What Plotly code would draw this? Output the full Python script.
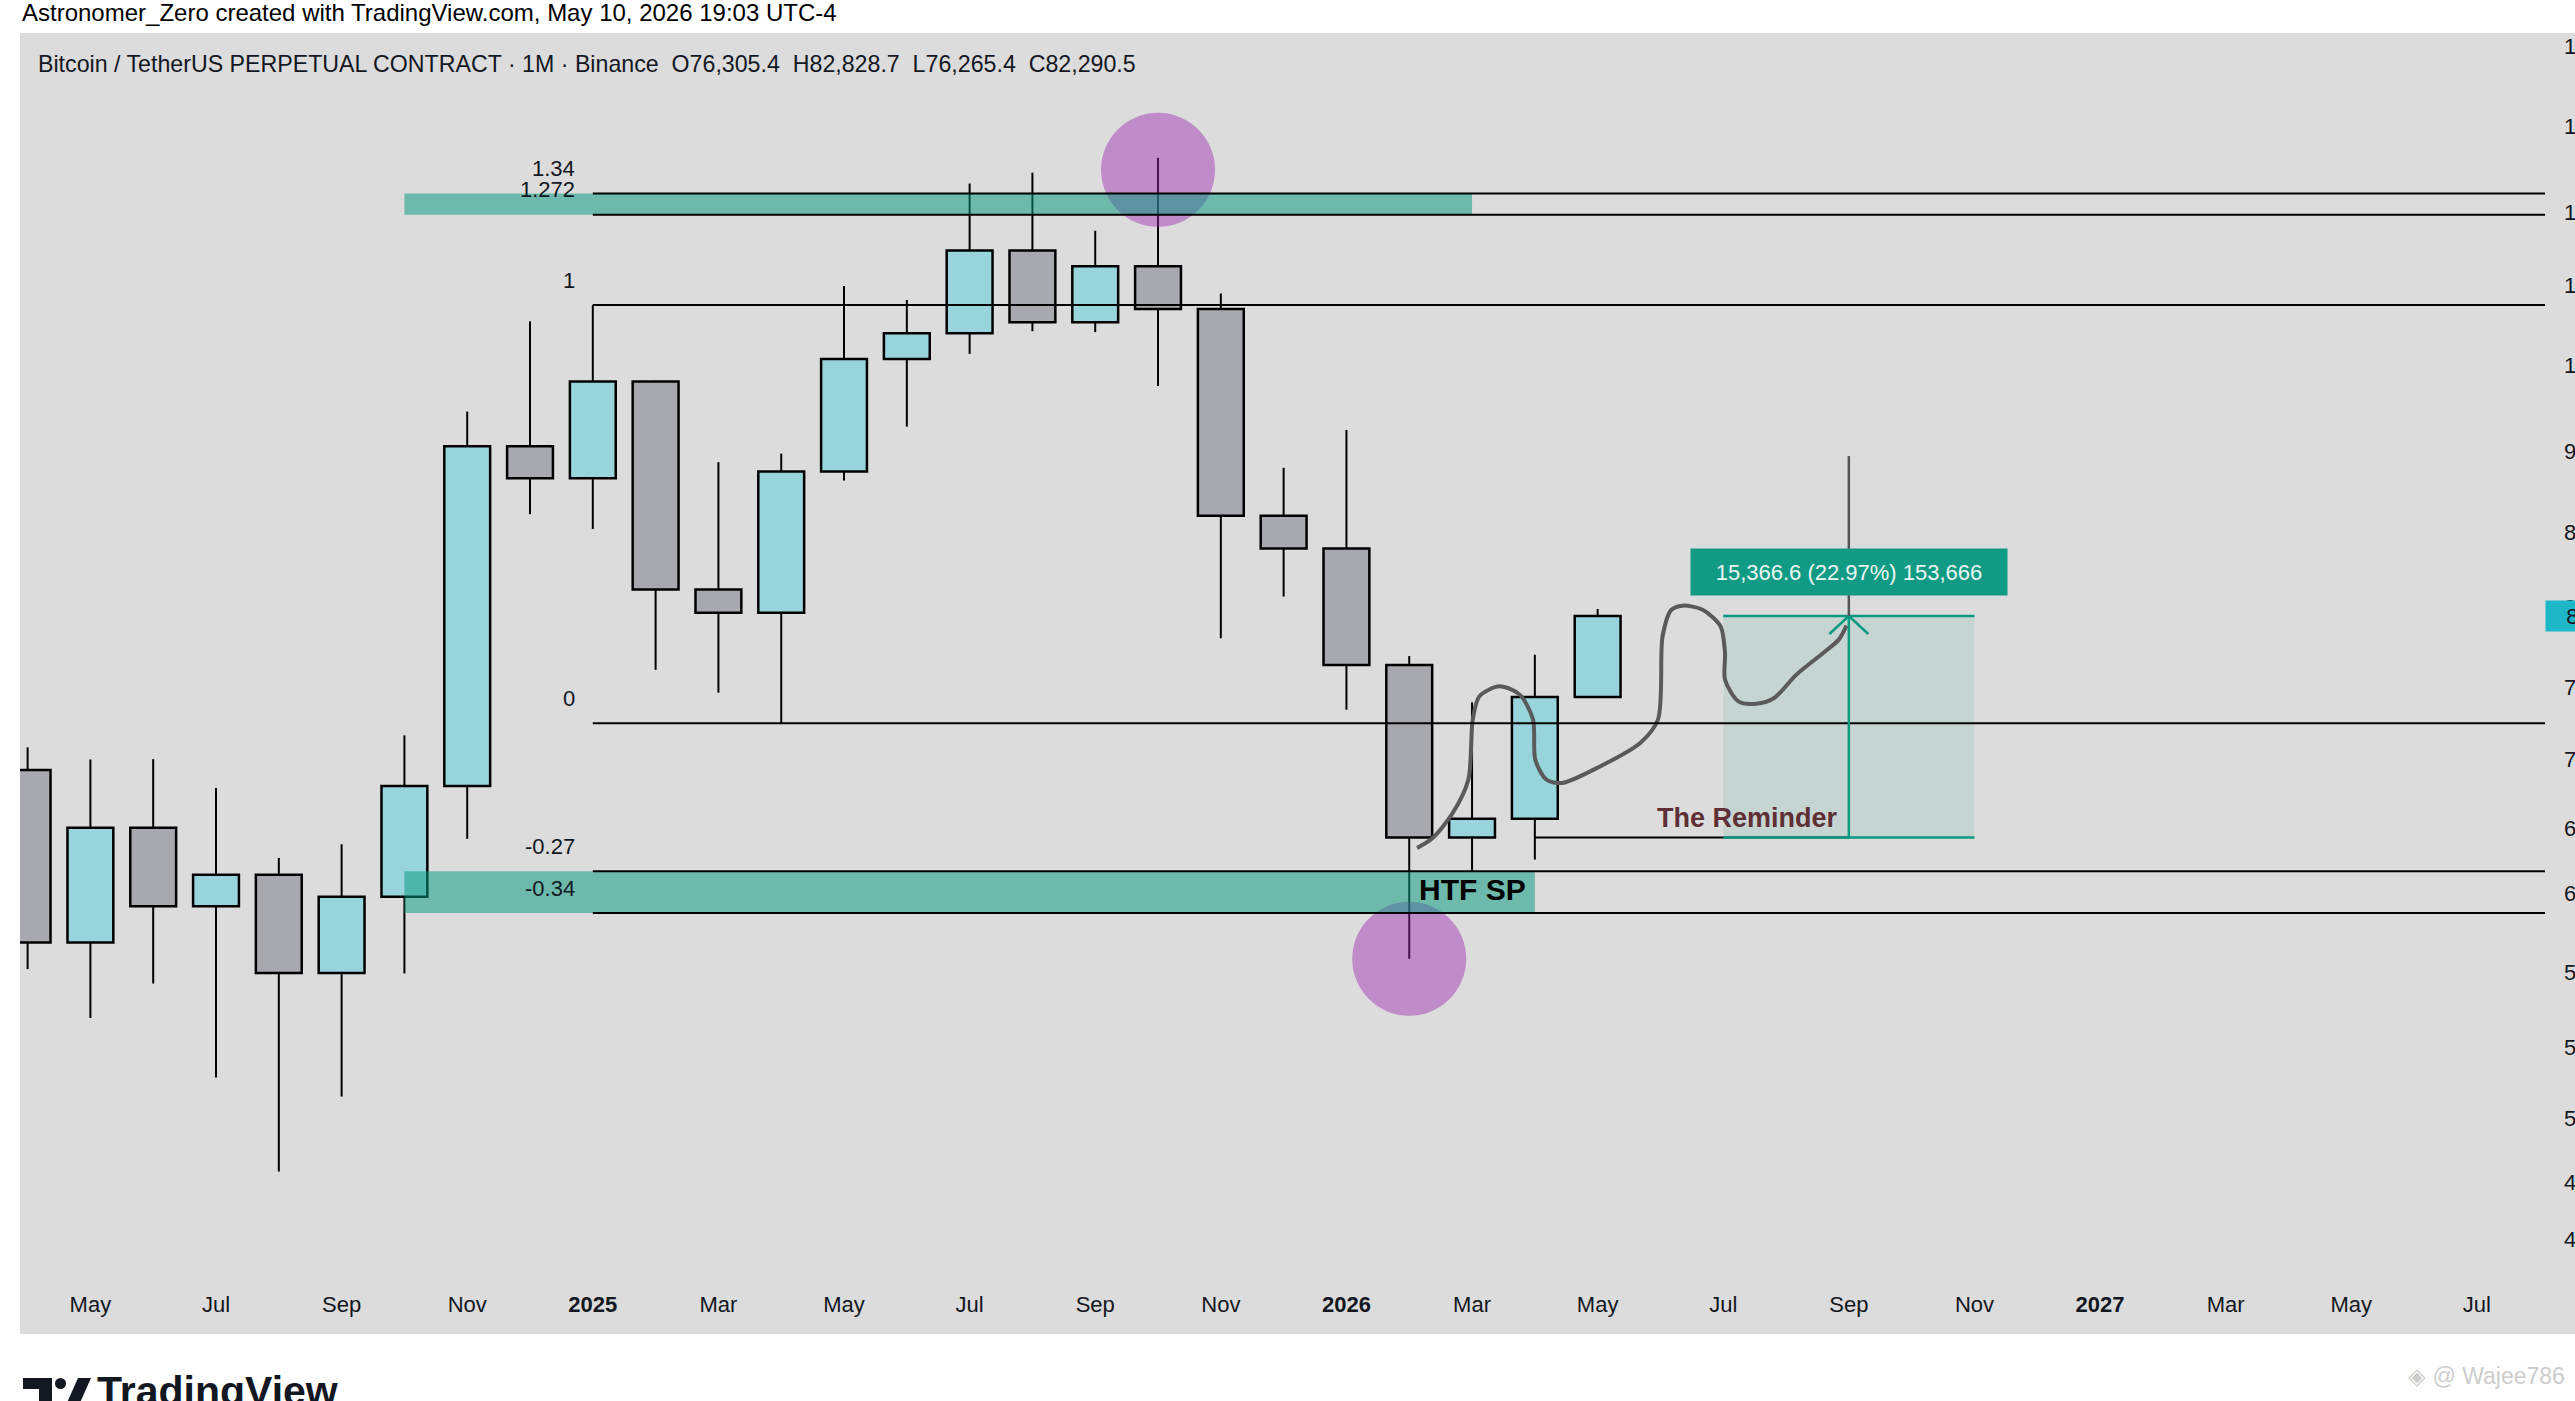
import math
import plotly.graph_objects as go

# ---------------- data ----------------
months = ["2024-04", "2024-05", "2024-06", "2024-07", "2024-08", "2024-09", "2024-10",
          "2024-11", "2024-12", "2025-01", "2025-02", "2025-03", "2025-04", "2025-05",
          "2025-06", "2025-07", "2025-08", "2025-09", "2025-10", "2025-11", "2025-12",
          "2026-01", "2026-02", "2026-03", "2026-04", "2026-05"]
opens = [71280, 60670, 67540, 62770, 64630, 58970, 63330, 70220, 96410, 93580, 102430, 84350,
         82550, 94170, 104590, 107140, 115760, 108250, 114050, 109610, 90360, 87650, 78620,
         66930, 68110, 76305.4]
highs = [72800, 71980, 72000, 70080, 65660, 66500, 73620, 99590, 108350, 110000, 102500, 95000,
         95760, 111980, 110530, 123220, 124470, 117900, 126200, 111200, 94500, 97900, 79270,
         75920, 79370, 82828.7]
lows = [59190, 56550, 58400, 53490, 49000, 52550, 58950, 66840, 90500, 89260, 78260, 76610,
        74450, 93380, 98200, 105100, 107350, 107260, 102000, 80600, 83800, 75400, 59760,
        64850, 65560, 76265.4]
closes = [60670, 67540, 62770, 64630, 58970, 63330, 70220, 96410, 93580, 102430, 84350, 82550,
          94170, 104590, 107140, 115760, 108250, 114050, 109610, 90360, 87650, 78620, 66930,
          68110, 76305.4, 82290.5]

axis_months = ["2024-05", "2024-07", "2024-09", "2024-11", "2025-01", "2025-03", "2025-05",
               "2025-07", "2025-09", "2025-11", "2026-01", "2026-03", "2026-05", "2026-07",
               "2026-09", "2026-11", "2027-01", "2027-03", "2027-05", "2027-07"]
axis_labels = ["May", "Jul", "Sep", "Nov", "<b>2025</b>", "Mar", "May", "Jul", "Sep", "Nov",
               "<b>2026</b>", "Mar", "May", "Jul", "Sep", "Nov", "<b>2027</b>", "Mar", "May", "Jul"]

price_ticks = [140000, 130000, 120000, 112000, 104000, 96000, 89000, 83000, 77000, 72000,
               67500, 63500, 59000, 55000, 51500, 48500, 46000]

fib_levels = [1.34, 1.272, 1, 0, -0.27, -0.34]
fib_texts = ["1.34", "1.272", "1", "0", "-0.27", "-0.34"]
fib_high = 110000
fib_low = 74450

measure_low = 66923.9
measure_high = 82290.5
measure_text = "15,366.6 (22.97%) 153,666"
last_price = 82290.5

# circled extremes (month index, price)
circle_idx = [18, 22]
circle_price = [124800, 59760]

# hand-drawn path (month index, price)
curve_idx = [22.125, 22.373, 22.692, 22.941, 23.011, 23.118, 23.440, 23.759, 23.971, 24.007,
             24.185, 24.434, 25.038, 25.678, 25.961, 26.034, 26.175, 26.353, 26.672, 26.957,
             27.028, 27.028, 27.242, 27.527, 27.812, 28.165, 28.591, 28.840, 28.963]
curve_price = [66269, 66891, 68468, 70632, 74708, 76352, 77069, 76469, 74708, 71966,
               70632, 70416, 71514, 73099, 74708, 80745, 82774, 83092, 82774, 81503,
               79505, 77544, 75989, 75827, 76234, 77913, 79505, 80497, 81553]


def midx(s):
    y, m = map(int, s.split("-"))
    return (y - 2024) * 12 + m - 4


x = [midx(m) for m in months]
fib_prices = [fib_low + lv * (fib_high - fib_low) for lv in fib_levels]

# ---------------- geometry ----------------
W, H = 2575, 1401
PL, PR, PT, PB = 20, 2545, 33, 1292
PW, PH = PR - PL, PB - PT
XR = [-0.121, 40.085]
YR = [4.64135, 5.15168]
PX_PER_IDX = PW / (XR[1] - XR[0])
PX_PER_DEC = PH / (YR[1] - YR[0])


def px_x(X):
    return (X - PL) / PW


def px_y(Y):
    return (PB - Y) / PH


BLUE = "#97d4dc"
GREY = "#a8a9ae"
TEAL = "#089981"
INK = "#131722"
FONT = "Liberation Sans, Arial, sans-serif"

fig = go.Figure()

# wicks (outside bodies)
ux, uy, lx, ly = [], [], [], []
for i, o, h, l, c in zip(x, opens, highs, lows, closes):
    ux += [i, i, None]
    uy += [max(o, c), h, None]
    lx += [i, i, None]
    ly += [l, min(o, c), None]
fig.add_trace(go.Scatter(x=ux, y=uy, mode="lines", line=dict(color="#000", width=2),
                         hoverinfo="skip", showlegend=False))
fig.add_trace(go.Scatter(x=lx, y=ly, mode="lines", line=dict(color="#000", width=2),
                         hoverinfo="skip", showlegend=False))

# bodies
fig.add_trace(go.Bar(
    x=x,
    base=[min(o, c) for o, c in zip(opens, closes)],
    y=[abs(c - o) for o, c in zip(opens, closes)],
    width=0.73,
    marker=dict(color=[BLUE if c >= o else GREY for o, c in zip(opens, closes)],
                line=dict(color="#000", width=2.5)),
    showlegend=False, hoverinfo="skip"))

# hand drawn curve
fig.add_trace(go.Scatter(x=curve_idx, y=curve_price, mode="lines",
                         line=dict(color="#5a5a5a", width=4, shape="spline", smoothing=0.8),
                         hoverinfo="skip", showlegend=False))

# arrow head of the measure tool
mid = 29
fig.add_trace(go.Scatter(x=[mid - 0.31, mid, mid + 0.31],
                         y=[measure_high * math.exp(-0.0168), measure_high, measure_high * math.exp(-0.0168)],
                         mode="lines", line=dict(color=TEAL, width=2.5),
                         hoverinfo="skip", showlegend=False))

shapes = []
# panel background
shapes.append(dict(type="rect", xref="paper", yref="paper", x0=px_x(PL), x1=px_x(2700),
                   y0=px_y(1334), y1=px_y(PT), fillcolor="#dcdcdc", line=dict(width=0), layer="below"))
# measure fill
shapes.append(dict(type="rect", xref="x", yref="y", x0=27, x1=31, y0=measure_low, y1=measure_high,
                   fillcolor="rgba(8,153,129,0.10)", line=dict(width=0), layer="below"))
# purple circles (57 px radius)
R = 57
for cx, cy in zip(circle_idx, circle_price):
    f = 10 ** (R / PX_PER_DEC)
    shapes.append(dict(type="circle", xref="x", yref="y",
                       x0=cx - R / PX_PER_IDX, x1=cx + R / PX_PER_IDX, y0=cy / f, y1=cy * f,
                       fillcolor="rgba(156,39,176,0.45)", line=dict(width=0), layer="above"))
# supply / demand bands
shapes.append(dict(type="rect", xref="x", yref="y", x0=6, x1=23, y0=fib_prices[1], y1=fib_prices[0],
                   fillcolor="rgba(8,153,129,0.52)", line=dict(width=0), layer="above"))
shapes.append(dict(type="rect", xref="x", yref="y", x0=6, x1=24, y0=fib_prices[5], y1=fib_prices[4],
                   fillcolor="rgba(8,153,129,0.52)", line=dict(width=0), layer="above"))
# fib lines
for p in fib_prices:
    shapes.append(dict(type="line", xref="x", yref="y", x0=9, x1=45, y0=p, y1=p,
                       line=dict(color="#000", width=2), layer="above"))
# measure tool lines
shapes.append(dict(type="line", xref="x", yref="y", x0=24, x1=29, y0=measure_low, y1=measure_low,
                   line=dict(color="#000", width=2), layer="above"))
for p in [measure_low, measure_high]:
    shapes.append(dict(type="line", xref="x", yref="y", x0=27, x1=31, y0=p, y1=p,
                       line=dict(color=TEAL, width=2.5), layer="above"))
shapes.append(dict(type="line", xref="x", yref="y", x0=mid, x1=mid, y0=measure_high, y1=95540,
                   line=dict(color="#555555", width=2.5), layer="above"))
shapes.append(dict(type="line", xref="x", yref="y", x0=mid, x1=mid, y0=measure_low, y1=measure_high,
                   line=dict(color=TEAL, width=2.5), layer="above"))
# TradingView logo mark
shapes.append(dict(type="rect", xref="paper", yref="paper", x0=px_x(23), x1=px_x(52),
                   y0=px_y(1389), y1=px_y(1378), fillcolor=INK, line=dict(width=0)))
shapes.append(dict(type="rect", xref="paper", yref="paper", x0=px_x(39), x1=px_x(52),
                   y0=px_y(1405), y1=px_y(1378), fillcolor=INK, line=dict(width=0)))
shapes.append(dict(type="circle", xref="paper", yref="paper", x0=px_x(55), x1=px_x(66),
                   y0=px_y(1389), y1=px_y(1378), fillcolor=INK, line=dict(width=0)))
shapes.append(dict(type="path", xref="paper", yref="paper",
                   path="M %f,%f L %f,%f L %f,%f L %f,%f Z" % (px_x(66), px_y(1405), px_x(78), px_y(1378),
                                                               px_x(91), px_y(1378), px_x(79), px_y(1405)),
                   fillcolor=INK, line=dict(width=0)))

ann = []
ann.append(dict(xref="paper", yref="paper", x=px_x(20), y=px_y(12), xanchor="left", yanchor="middle",
                text="Astronomer_Zero created with TradingView.com, May 10, 2026 19:03 UTC-4",
                showarrow=False, font=dict(family=FONT, size=24, color="#000")))
hdr = ("Bitcoin / TetherUS PERPETUAL CONTRACT · 1M · Binance\u00a0\u00a0O%s\u00a0\u00a0H%s\u00a0\u00a0L%s\u00a0\u00a0C%s"
       % (f"{opens[-1]:,.1f}", f"{highs[-1]:,.1f}", f"{lows[-1]:,.1f}", f"{closes[-1]:,.1f}"))
ann.append(dict(xref="paper", yref="paper", x=px_x(36), y=px_y(64), xanchor="left", yanchor="middle",
                text=hdr, showarrow=False, font=dict(family=FONT, size=23.2, color=INK)))
for t, p in zip(fib_texts, fib_prices):
    ann.append(dict(xref="x", yref="y", x=9, y=math.log10(p), xanchor="right", yanchor="middle",
                    xshift=-16, yshift=25, text=t, showarrow=False,
                    font=dict(family=FONT, size=22, color=INK)))
ann.append(dict(xref="x", yref="y", x=23, y=math.log10(63740), xanchor="center", yanchor="middle",
                text="<b>HTF SP</b>", showarrow=False, font=dict(family=FONT, size=30, color="#000")))
ann.append(dict(xref="x", yref="y", x=27.38, y=math.log10(68170), xanchor="center", yanchor="middle",
                text="<b>The Reminder</b>", showarrow=False, font=dict(family=FONT, size=27, color="#5e2f35")))
ann.append(dict(xref="x", yref="y", x=mid, y=math.log10(85750), xanchor="center", yanchor="middle",
                text=measure_text, showarrow=False, bgcolor="#129b84", borderpad=8, width=300, height=30,
                font=dict(family=FONT, size=22, color="#eaf6f3")))
ann.append(dict(xref="paper", yref="y", x=1.0, y=math.log10(last_price), xanchor="left", yanchor="middle",
                text="\u00a0\u00a0\u00a0" + f"{last_price:,.1f}", showarrow=False, bgcolor="#1fb6ca",
                borderpad=2, height=26, align="left", font=dict(family=FONT, size=22, color=INK)))
ann.append(dict(xref="paper", yref="paper", x=px_x(95), y=px_y(1366), xanchor="left", yanchor="top",
                text="<b>TradingView</b>", showarrow=False, font=dict(family=FONT, size=41, color=INK)))
ann.append(dict(xref="paper", yref="paper", x=px_x(2567), y=px_y(1376), xanchor="right", yanchor="middle",
                text="\u25c8 @ Wajee786", showarrow=False, font=dict(family=FONT, size=23, color="#cdcdcd")))

fig.update_layout(
    width=W, height=H,
    margin=dict(l=PL, r=W - PR, t=PT, b=H - PB, pad=0),
    paper_bgcolor="#ffffff", plot_bgcolor="#dcdcdc",
    template="none", showlegend=False, barmode="overlay",
    shapes=shapes, annotations=ann,
    font=dict(family=FONT, size=22, color=INK),
    xaxis=dict(range=XR, showgrid=False, zeroline=False, showline=False,
               tickmode="array", tickvals=[midx(m) for m in axis_months], ticktext=axis_labels,
               ticks="", ticklabelstandoff=-3, tickfont=dict(family=FONT, size=22, color=INK),
               automargin=False, fixedrange=True),
    yaxis=dict(type="log", range=YR, side="right", showgrid=False, zeroline=False,
               showline=False, tickmode="array", tickvals=price_ticks,
               ticktext=[f"{v:,.1f}" for v in price_ticks], ticks="", ticklabelstandoff=18,
               tickfont=dict(family=FONT, size=22, color=INK), automargin=False, fixedrange=True),
)

fig.write_html("out.html", config={"displayModeBar": False},
               post_script="document.body.style.margin='0';document.body.style.overflow='hidden';")
